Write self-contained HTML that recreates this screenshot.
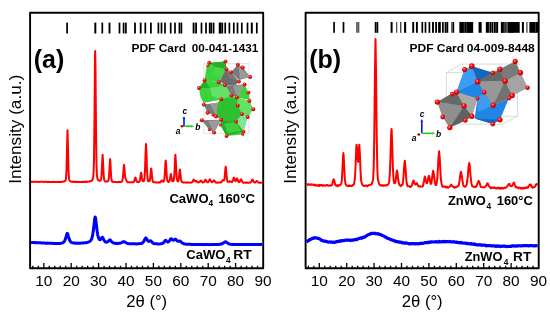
<!DOCTYPE html>
<html><head><meta charset="utf-8"><title>XRD patterns of CaWO4 and ZnWO4</title><style>
html,body{margin:0;padding:0;background:#fff;}
svg{display:block;}
text{font-family:"Liberation Sans",Arial,sans-serif;fill:#000;}
.tl{font-size:15.4px;text-anchor:middle;}
.xt{font-size:16.7px;}
.yt{font-size:17.2px;text-anchor:middle;}
.pl{font-size:25px;font-weight:bold;}
.pdf{font-size:11.5px;font-weight:bold;}
.sl{font-size:12.4px;font-weight:bold;}
.sub{font-size:8.3px;}
.ax{font-size:8.5px;font-weight:bold;font-style:italic;}
</style></head>
<body><svg width="550" height="317" viewBox="0 0 550 317">
<rect width="550" height="317" fill="#fff"/>
<rect x="30.10" y="12.8" width="233.10" height="255.40" fill="none" stroke="#000" stroke-width="1.9" stroke-linejoin="round"/>
<path d="M32.84 268.2 V265.80 M38.32 268.2 V265.80 M43.80 268.2 V263.00 M49.28 268.2 V265.80 M54.76 268.2 V265.80 M60.24 268.2 V265.80 M65.72 268.2 V265.80 M71.20 268.2 V263.00 M76.68 268.2 V265.80 M82.16 268.2 V265.80 M87.64 268.2 V265.80 M93.12 268.2 V265.80 M98.60 268.2 V263.00 M104.08 268.2 V265.80 M109.56 268.2 V265.80 M115.04 268.2 V265.80 M120.52 268.2 V265.80 M126.00 268.2 V263.00 M131.48 268.2 V265.80 M136.96 268.2 V265.80 M142.44 268.2 V265.80 M147.92 268.2 V265.80 M153.40 268.2 V263.00 M158.88 268.2 V265.80 M164.36 268.2 V265.80 M169.84 268.2 V265.80 M175.32 268.2 V265.80 M180.80 268.2 V263.00 M186.28 268.2 V265.80 M191.76 268.2 V265.80 M197.24 268.2 V265.80 M202.72 268.2 V265.80 M208.20 268.2 V263.00 M213.68 268.2 V265.80 M219.16 268.2 V265.80 M224.64 268.2 V265.80 M230.12 268.2 V265.80 M235.60 268.2 V263.00 M241.08 268.2 V265.80 M246.56 268.2 V265.80 M252.04 268.2 V265.80 M257.52 268.2 V265.80" stroke="#000" stroke-width="1.3" fill="none"/>
<text x="43.80" y="286.2" class="tl">10</text>
<text x="71.20" y="286.2" class="tl">20</text>
<text x="98.60" y="286.2" class="tl">30</text>
<text x="126.00" y="286.2" class="tl">40</text>
<text x="153.40" y="286.2" class="tl">50</text>
<text x="180.80" y="286.2" class="tl">60</text>
<text x="208.20" y="286.2" class="tl">70</text>
<text x="235.60" y="286.2" class="tl">80</text>
<text x="263.00" y="286.2" class="tl">90</text>
<text x="126.20" y="306.8" class="xt">2θ (°)</text>
<text transform="translate(20.80,129.2) rotate(-90)" class="yt">Intensity (a.u.)</text>
<text x="33.70" y="68.0" class="pl">(a)</text>
<g fill="#000"><rect x="66.25" y="22.6" width="1.70" height="10.90"/><rect x="94.30" y="22.6" width="2.00" height="10.90"/><rect x="101.45" y="22.6" width="1.70" height="10.90"/><rect x="108.55" y="22.6" width="1.90" height="10.90"/><rect x="118.65" y="22.6" width="1.70" height="10.90"/><rect x="122.75" y="22.6" width="1.70" height="10.90"/><rect x="125.05" y="22.6" width="1.70" height="10.90"/><rect x="134.10" y="22.6" width="1.80" height="10.90"/><rect x="139.80" y="22.6" width="1.80" height="10.90"/><rect x="144.45" y="22.6" width="1.70" height="10.90"/><rect x="150.00" y="22.6" width="1.80" height="10.90"/><rect x="157.55" y="22.6" width="1.70" height="10.90"/><rect x="160.65" y="22.6" width="1.70" height="10.90"/><rect x="164.15" y="22.6" width="1.70" height="10.90"/><rect x="169.85" y="22.6" width="1.70" height="10.90"/><rect x="174.15" y="22.6" width="1.70" height="10.90"/><rect x="178.55" y="22.6" width="1.70" height="10.90"/><rect x="180.55" y="22.6" width="1.70" height="10.90"/><rect x="192.65" y="22.6" width="1.90" height="10.90"/><rect x="195.20" y="22.6" width="1.80" height="10.90"/><rect x="200.65" y="22.6" width="1.70" height="10.90"/><rect x="205.15" y="22.6" width="1.70" height="10.90"/><rect x="208.85" y="22.6" width="1.70" height="10.90"/><rect x="210.45" y="22.6" width="1.70" height="10.90"/><rect x="212.75" y="22.6" width="1.70" height="10.90"/><rect x="218.75" y="22.6" width="1.70" height="10.90"/><rect x="219.75" y="22.6" width="1.70" height="10.90"/><rect x="221.45" y="22.6" width="1.70" height="10.90"/><rect x="224.35" y="22.6" width="1.70" height="10.90"/><rect x="228.55" y="22.6" width="1.70" height="10.90"/><rect x="232.95" y="22.6" width="1.70" height="10.90"/><rect x="236.65" y="22.6" width="1.70" height="10.90"/><rect x="240.95" y="22.6" width="1.70" height="10.90"/><rect x="246.65" y="22.6" width="1.70" height="10.90"/><rect x="250.80" y="22.6" width="2.00" height="10.90"/><rect x="255.95" y="22.6" width="1.70" height="10.90"/></g>
<rect x="305.60" y="12.8" width="233.10" height="255.40" fill="none" stroke="#000" stroke-width="1.9" stroke-linejoin="round"/>
<path d="M308.34 268.2 V265.80 M313.82 268.2 V265.80 M319.30 268.2 V263.00 M324.78 268.2 V265.80 M330.26 268.2 V265.80 M335.74 268.2 V265.80 M341.22 268.2 V265.80 M346.70 268.2 V263.00 M352.18 268.2 V265.80 M357.66 268.2 V265.80 M363.14 268.2 V265.80 M368.62 268.2 V265.80 M374.10 268.2 V263.00 M379.58 268.2 V265.80 M385.06 268.2 V265.80 M390.54 268.2 V265.80 M396.02 268.2 V265.80 M401.50 268.2 V263.00 M406.98 268.2 V265.80 M412.46 268.2 V265.80 M417.94 268.2 V265.80 M423.42 268.2 V265.80 M428.90 268.2 V263.00 M434.38 268.2 V265.80 M439.86 268.2 V265.80 M445.34 268.2 V265.80 M450.82 268.2 V265.80 M456.30 268.2 V263.00 M461.78 268.2 V265.80 M467.26 268.2 V265.80 M472.74 268.2 V265.80 M478.22 268.2 V265.80 M483.70 268.2 V263.00 M489.18 268.2 V265.80 M494.66 268.2 V265.80 M500.14 268.2 V265.80 M505.62 268.2 V265.80 M511.10 268.2 V263.00 M516.58 268.2 V265.80 M522.06 268.2 V265.80 M527.54 268.2 V265.80 M533.02 268.2 V265.80" stroke="#000" stroke-width="1.3" fill="none"/>
<text x="319.30" y="286.2" class="tl">10</text>
<text x="346.70" y="286.2" class="tl">20</text>
<text x="374.10" y="286.2" class="tl">30</text>
<text x="401.50" y="286.2" class="tl">40</text>
<text x="428.90" y="286.2" class="tl">50</text>
<text x="456.30" y="286.2" class="tl">60</text>
<text x="483.70" y="286.2" class="tl">70</text>
<text x="511.10" y="286.2" class="tl">80</text>
<text x="538.50" y="286.2" class="tl">90</text>
<text x="401.70" y="306.8" class="xt">2θ (°)</text>
<text transform="translate(296.30,129.2) rotate(-90)" class="yt">Intensity (a.u.)</text>
<text x="309.20" y="68.0" class="pl">(b)</text>
<g fill="#000"><rect x="333.25" y="22.0" width="1.70" height="10.80"/><rect x="342.65" y="22.0" width="1.70" height="10.80"/><rect x="356.30" y="22.0" width="1.40" height="10.80" fill="#333"/><rect x="358.05" y="22.0" width="1.30" height="10.80" fill="#555"/><rect x="374.75" y="22.0" width="1.70" height="10.80"/><rect x="376.55" y="22.0" width="1.70" height="10.80"/><rect x="390.60" y="22.0" width="2.00" height="10.80"/><rect x="396.10" y="22.0" width="1.20" height="10.80" fill="#444"/><rect x="400.00" y="22.0" width="1.40" height="10.80" fill="#444"/><rect x="404.05" y="22.0" width="2.10" height="10.80"/><rect x="412.25" y="22.0" width="1.90" height="10.80"/><rect x="415.95" y="22.0" width="1.90" height="10.80"/><rect x="421.45" y="22.0" width="1.70" height="10.80"/><rect x="424.65" y="22.0" width="1.70" height="10.80"/><rect x="428.55" y="22.0" width="1.70" height="10.80"/><rect x="432.05" y="22.0" width="1.90" height="10.80"/><rect x="435.20" y="22.0" width="1.80" height="10.80"/><rect x="438.10" y="22.0" width="2.70" height="10.80"/><rect x="442.05" y="22.0" width="1.70" height="10.80"/><rect x="444.65" y="22.0" width="1.70" height="10.80"/><rect x="445.95" y="22.0" width="0.70" height="10.80" fill="#666"/><rect x="446.55" y="22.0" width="1.70" height="10.80"/><rect x="451.10" y="22.0" width="1.20" height="10.80" fill="#555"/><rect x="452.45" y="22.0" width="1.70" height="10.80"/><rect x="459.50" y="22.0" width="13.60" height="10.80" fill="#555"/><rect x="459.50" y="22.0" width="4.30" height="10.80"/><rect x="464.65" y="22.0" width="1.70" height="10.80"/><rect x="467.00" y="22.0" width="6.10" height="10.80"/><rect x="478.55" y="22.0" width="3.10" height="10.80"/><rect x="485.85" y="22.0" width="3.10" height="10.80"/><rect x="489.00" y="22.0" width="0.80" height="10.80" fill="#999"/><rect x="489.55" y="22.0" width="1.70" height="10.80"/><rect x="491.45" y="22.0" width="1.70" height="10.80"/><rect x="493.90" y="22.0" width="4.10" height="10.80" fill="#444"/><rect x="493.65" y="22.0" width="1.70" height="10.80"/><rect x="496.45" y="22.0" width="1.70" height="10.80"/><rect x="500.90" y="22.0" width="12.20" height="10.80" fill="#555"/><rect x="500.90" y="22.0" width="2.80" height="10.80"/><rect x="504.40" y="22.0" width="1.80" height="10.80" fill="#333"/><rect x="508.00" y="22.0" width="5.00" height="10.80"/><rect x="512.50" y="22.0" width="7.20" height="10.80"/><rect x="521.90" y="22.0" width="2.00" height="10.80"/><rect x="526.20" y="22.0" width="1.40" height="10.80" fill="#555"/><rect x="529.35" y="22.0" width="8.70" height="10.80"/><rect x="535.00" y="22.0" width="1.00" height="10.80" fill="#333"/></g>
<text x="131.4" y="51.6" class="pdf" textLength="54.6" lengthAdjust="spacingAndGlyphs">PDF Card</text>
<text x="191.8" y="51.6" class="pdf" textLength="66.5" lengthAdjust="spacingAndGlyphs">00-041-1431</text>
<text x="409.5" y="51.6" class="pdf" textLength="54.6" lengthAdjust="spacingAndGlyphs">PDF Card</text>
<text x="466.8" y="51.6" class="pdf" textLength="68" lengthAdjust="spacingAndGlyphs">04-009-8448</text>
<defs><radialGradient id="ag" cx="0.4" cy="0.35" r="0.7"><stop offset="0" stop-color="#ffb0b0"/><stop offset="0.35" stop-color="#f41010"/><stop offset="1" stop-color="#b80000"/></radialGradient></defs><g fill="none" stroke="#cfcfcf" stroke-width="0.6"><path d="M203.8 63.6 H249 V133.3 H203.8 Z"/></g><polygon points="209.2,62.8 225.5,61.4 226.5,69.2 221.0,78.0 218.8,82.3 204.6,80.2 206.5,67.0" fill="#3cd23c"/><polygon points="209.2,62.8 225.5,61.4 226.5,69.2 216.0,67.0" fill="#26ae26"/><polygon points="216.0,67.0 226.5,69.2 221.0,78.0 212.0,74.0" fill="#48d848"/><polygon points="199.0,88.0 204.6,80.2 218.8,82.3 225.7,85.5 231.4,95.4 227.0,97.5 221.2,99.5 203.5,103.0 200.5,97.0" fill="#3cd23c"/><polygon points="210.0,88.0 225.7,85.5 231.4,95.4 227.0,97.5 221.2,99.5 212.0,96.0" fill="#66e066"/><polygon points="199.0,88.0 204.6,80.2 210.0,88.0" fill="#26ae26"/><polygon points="226.1,69.2 231.0,72.3 238.9,81.6 236.0,84.8 225.7,85.5 219.5,81.0" fill="#6c6c6c"/><polygon points="226.1,69.2 231.0,72.3 238.9,81.6 229.0,78.0" fill="#7a7a7a"/><polygon points="237.8,64.6 242.7,67.5 250.2,77.0 239.0,80.0 231.0,72.3" fill="#7a7a7a"/><polygon points="238.5,66.0 250.2,77.0 240.0,79.0" fill="#9a9a9a"/><polygon points="225.7,85.5 244.6,84.5 237.0,97.2 231.4,95.4" fill="#7a7a7a"/><polygon points="233.0,86.0 244.6,84.5 237.0,97.2" fill="#9a9a9a"/><polygon points="244.6,84.5 248.4,92.6 250.0,100.0 237.0,97.6" fill="#3cd23c"/><polygon points="217.7,102.8 221.2,99.0 231.4,95.7 237.0,97.6 249.4,101.0 253.3,109.2 247.7,117.0 243.4,131.6 242.7,134.4 226.4,136.1 220.5,125.0 221.2,119.8 216.3,116.3" fill="#3cd23c"/><polygon points="221.2,99.0 237.0,97.6 237.8,105.6 242.0,114.1 236.1,121.6 221.2,119.8 216.3,116.3 217.7,102.8" fill="#2fc02f"/><polygon points="237.0,97.6 249.4,101.0 253.3,109.2 247.7,117.0 242.0,114.1 237.8,105.6" fill="#66e066"/><polygon points="242.0,114.1 247.7,117.0 243.4,131.6 236.1,121.6" fill="#7fe59a"/><polygon points="238.0,123.0 243.4,131.6 241.0,128.0" fill="#a6f0b8"/><polygon points="221.2,119.8 236.1,121.6 243.4,131.6 226.4,136.1 220.5,125.0" fill="#26ae26"/><polygon points="224.0,124.0 236.1,121.6 241.0,131.0 228.0,133.0" fill="#3cd23c"/><polygon points="203.8,104.6 217.7,102.8 216.3,116.3 207.5,112.7" fill="#7a7a7a"/><polygon points="210.0,104.0 217.7,102.8 216.3,116.3" fill="#9a9a9a"/><polygon points="201.8,120.2 221.2,119.8 214.1,132.6 209.2,129.7" fill="#7a7a7a"/><polygon points="208.0,121.0 221.2,119.8 214.1,132.6" fill="#9a9a9a"/><g fill="url(#ag)"><circle cx="209.2" cy="62.8" r="1.96"/><circle cx="207.6" cy="65.8" r="1.34"/><circle cx="225.5" cy="61.4" r="1.96"/><circle cx="226.5" cy="69.2" r="1.96"/><circle cx="204.6" cy="80.2" r="1.96"/><circle cx="218.8" cy="82.3" r="1.96"/><circle cx="224.8" cy="85.0" r="1.96"/><circle cx="199.0" cy="88.0" r="1.96"/><circle cx="221.2" cy="99.2" r="1.96"/><circle cx="237.8" cy="64.6" r="1.96"/><circle cx="242.7" cy="67.5" r="1.96"/><circle cx="231.0" cy="72.3" r="1.96"/><circle cx="250.2" cy="77.0" r="1.96"/><circle cx="238.9" cy="81.6" r="1.96"/><circle cx="244.6" cy="84.5" r="1.96"/><circle cx="248.4" cy="92.6" r="1.96"/><circle cx="231.4" cy="95.4" r="1.96"/><circle cx="237.0" cy="97.4" r="1.96"/><circle cx="203.8" cy="104.6" r="1.96"/><circle cx="207.5" cy="112.7" r="1.96"/><circle cx="213.1" cy="115.3" r="1.46"/><circle cx="216.0" cy="116.5" r="1.96"/><circle cx="201.8" cy="120.2" r="1.96"/><circle cx="221.2" cy="119.8" r="1.96"/><circle cx="220.5" cy="125.0" r="1.46"/><circle cx="209.2" cy="129.7" r="1.46"/><circle cx="214.1" cy="132.6" r="1.96"/><circle cx="226.5" cy="136.1" r="1.96"/><circle cx="249.4" cy="101.0" r="1.96"/><circle cx="237.8" cy="105.6" r="1.96"/><circle cx="253.3" cy="109.2" r="1.96"/><circle cx="242.0" cy="114.1" r="1.96"/><circle cx="247.7" cy="117.0" r="1.96"/><circle cx="236.1" cy="121.6" r="1.96"/><circle cx="243.4" cy="131.6" r="1.96"/><circle cx="242.7" cy="134.4" r="1.46"/></g><path d="M184.0 126.2 V118.8" stroke="#1010e0" stroke-width="1.6"/><path d="M182.5 119.0 L184.0 116.2 L185.5 119.0 Z" fill="#1010e0"/><path d="M184.0 126.2 H191.4" stroke="#20d020" stroke-width="1.6"/><path d="M191.2 124.7 L194.0 126.2 L191.2 127.7 Z" fill="#20d020"/><ellipse cx="182.0" cy="126.3" rx="1.5" ry="1.2" fill="#b01010"/><text x="178" y="133.5" class="ax" text-anchor="middle">a</text><text x="197.9" y="130.0" class="ax" text-anchor="middle">b</text><text x="184.9" y="113.8" class="ax" text-anchor="middle">c</text>
<g fill="none" stroke="#c8c8c8" stroke-width="0.7"><path d="M446.4 72.6 L461.7 64.1 H520 M446.4 72.6 H505 M446.4 72.6 V124.2 H502 L517.6 116.3 V75 M502 116.3 H517.6 M505 72.6 L520 64.1"/></g><polygon points="464.6,69.6 471.8,66.2 492.8,72.8 484.2,92.7 477.5,98.5 466.0,97.0 456.6,92.1" fill="#1f86e6"/><polygon points="471.8,66.2 492.8,72.8 477.7,81.7" fill="#1467c0"/><polygon points="464.6,69.6 471.8,66.2 477.7,81.7 456.6,92.1" fill="#3c9cf2"/><polygon points="477.5,98.5 484.2,92.1 493.2,105.3 508.8,98.5 499.9,119.8 492.8,124.1 474.6,118.4" fill="#1f86e6"/><polygon points="474.6,118.4 499.9,119.8 492.8,124.1" fill="#1467c0"/><polygon points="477.5,98.5 484.2,92.1 493.2,105.3 478.0,112.0" fill="#3c9cf2"/><polygon points="477.8,81.3 492.8,72.8 499.9,69.2 505.1,81.0 512.2,95.5 509.1,98.3 493.2,105.3 484.2,92.7" fill="#8a8a8a"/><polygon points="477.8,81.3 492.8,72.8 499.9,69.2 505.1,81.0" fill="#686868"/><polygon points="477.8,81.3 505.1,81.0 493.2,105.3 484.2,92.7" fill="#979797"/><polygon points="505.1,81.0 512.2,95.5 509.1,98.3 493.2,105.3" fill="#727272"/><polygon points="499.9,69.2 515.2,61.4 520.5,72.8 527.6,87.7 512.2,95.5 505.1,81.0" fill="#8a8a8a"/><polygon points="499.9,69.2 515.2,61.4 520.5,72.8 505.1,81.0" fill="#7a7a7a"/><polygon points="505.1,81.0 520.5,72.8 527.6,87.7 512.2,95.5" fill="#a4a4a4"/><polygon points="437.4,102.1 451.9,93.6 456.4,92.1 477.5,98.5 471.8,116.3 465.4,120.5 449.8,127.6 442.7,117.0" fill="#8a8a8a"/><polygon points="437.4,102.1 451.9,93.6 456.4,92.1 464.0,105.9" fill="#686868"/><polygon points="456.4,92.1 477.5,98.5 471.8,116.3 464.0,105.9" fill="#a8a8a8"/><polygon points="464.0,105.9 471.8,116.3 465.4,120.5 449.8,127.6" fill="#616161"/><polygon points="437.4,102.1 464.0,105.9 449.8,127.6 442.7,117.0" fill="#8e8e8e"/><g fill="url(#ag)"><circle cx="471.8" cy="66.2" r="2.85"/><circle cx="464.6" cy="69.6" r="2.55"/><circle cx="515.2" cy="61.4" r="2.55"/><circle cx="499.9" cy="69.2" r="2.70"/><circle cx="492.8" cy="72.8" r="2.40"/><circle cx="520.5" cy="72.8" r="2.70"/><circle cx="477.7" cy="81.7" r="2.85"/><circle cx="505.1" cy="81.0" r="2.85"/><circle cx="527.6" cy="87.7" r="2.25"/><circle cx="456.6" cy="92.1" r="2.70"/><circle cx="452.2" cy="94.0" r="2.25"/><circle cx="484.2" cy="92.4" r="2.40"/><circle cx="512.2" cy="95.5" r="2.70"/><circle cx="509.1" cy="98.3" r="2.10"/><circle cx="437.4" cy="102.1" r="2.70"/><circle cx="464.0" cy="105.9" r="2.70"/><circle cx="477.5" cy="98.5" r="1.95"/><circle cx="493.2" cy="105.3" r="2.70"/><circle cx="442.7" cy="117.0" r="2.40"/><circle cx="471.8" cy="116.3" r="2.70"/><circle cx="465.4" cy="120.5" r="2.25"/><circle cx="449.8" cy="127.6" r="2.70"/><circle cx="499.9" cy="119.8" r="2.70"/><circle cx="492.8" cy="124.1" r="2.40"/></g><path d="M421.8 133.3 V121.6" stroke="#1010e0" stroke-width="1.6"/><path d="M420.3 121.8 L421.8 119.0 L423.3 121.8 Z" fill="#1010e0"/><path d="M421.8 133.3 H432.4" stroke="#20d020" stroke-width="1.6"/><path d="M432.2 131.8 L435.0 133.3 L432.2 134.8 Z" fill="#20d020"/><ellipse cx="418.8" cy="134.5" rx="1.5" ry="1.2" fill="#b01010"/><text x="414.2" y="141.1" class="ax" text-anchor="middle">a</text><text x="438.5" y="136.6" class="ax" text-anchor="middle">b</text><text x="422.0" y="117.1" class="ax" text-anchor="middle">c</text>
<path d="M31.00 181.93 L31.50 181.93 L32.00 181.67 L32.50 181.68 L33.00 181.91 L33.50 181.88 L34.00 181.86 L34.50 181.76 L35.00 181.85 L35.50 181.85 L36.00 181.85 L36.50 181.72 L37.00 181.81 L37.50 181.80 L38.00 181.90 L38.50 181.99 L39.00 181.98 L39.50 181.86 L40.00 181.83 L40.50 181.78 L41.00 181.71 L41.50 181.71 L42.00 181.85 L42.50 181.81 L43.00 181.83 L43.50 181.98 L44.00 181.88 L44.50 181.89 L45.00 181.80 L45.50 181.73 L46.00 181.83 L46.50 181.77 L47.00 181.89 L47.50 182.04 L48.00 181.94 L48.50 181.80 L49.00 182.01 L49.50 181.98 L50.00 181.97 L50.50 182.02 L51.00 181.98 L51.50 181.99 L52.00 181.86 L52.50 182.05 L53.00 182.04 L53.50 181.80 L54.00 181.98 L54.50 181.97 L55.00 181.90 L55.50 181.92 L56.00 181.90 L56.50 182.03 L57.00 181.90 L57.50 182.00 L58.00 181.85 L58.50 182.00 L59.00 182.00 L59.50 181.86 L60.00 181.88 L60.50 181.97 L61.00 181.89 L61.50 181.80 L62.00 181.69 L62.50 181.68 L63.00 181.73 L63.50 181.49 L64.00 181.60 L64.50 181.23 L65.00 181.14 L65.50 180.41 L66.00 178.78 L66.50 170.44 L67.00 148.25 L67.50 130.31 L68.00 148.25 L68.50 170.43 L69.00 178.68 L69.50 180.42 L70.00 180.94 L70.50 181.32 L71.00 181.63 L71.50 181.66 L72.00 181.57 L72.50 181.86 L73.00 181.87 L73.50 181.96 L74.00 181.77 L74.50 181.96 L75.00 181.77 L75.50 181.97 L76.00 181.86 L76.50 181.86 L77.00 182.06 L77.50 181.84 L78.00 181.96 L78.50 182.07 L79.00 181.89 L79.50 181.88 L80.00 182.08 L80.50 181.94 L81.00 182.03 L81.50 181.82 L82.00 181.92 L82.50 181.85 L83.00 182.00 L83.50 181.81 L84.00 182.07 L84.50 181.78 L85.00 181.97 L85.50 181.74 L86.00 181.80 L86.50 181.94 L87.00 181.71 L87.50 181.68 L88.00 181.79 L88.50 181.65 L89.00 181.47 L89.50 181.67 L90.00 181.30 L90.50 181.12 L91.00 181.00 L91.50 180.79 L92.00 180.39 L92.50 179.51 L93.00 178.35 L93.50 174.73 L94.00 160.15 L94.50 116.67 L95.00 59.10 L95.20 51.08 L95.50 68.14 L96.00 128.02 L96.50 164.95 L97.00 176.01 L97.50 178.74 L98.00 179.73 L98.50 180.23 L99.00 180.50 L99.50 180.81 L100.00 180.74 L100.50 180.52 L101.00 179.78 L101.50 176.05 L102.00 165.60 L102.60 154.80 L103.00 160.68 L103.50 172.77 L104.00 179.08 L104.50 180.70 L105.00 181.39 L105.50 181.37 L106.00 181.57 L106.50 181.55 L107.00 181.41 L107.50 181.49 L108.00 181.15 L108.50 180.34 L109.00 177.00 L109.50 168.31 L110.10 159.08 L110.50 163.93 L111.00 174.43 L111.50 179.74 L112.00 181.35 L112.50 181.72 L113.00 181.91 L113.50 181.79 L114.00 181.93 L114.50 181.92 L115.00 182.05 L115.50 182.10 L116.00 182.18 L116.50 182.17 L117.00 182.05 L117.50 182.11 L118.00 182.15 L118.50 181.99 L119.00 182.00 L119.50 182.10 L120.00 181.99 L120.50 182.13 L121.00 181.92 L121.50 181.76 L122.00 181.49 L122.50 180.44 L123.00 176.81 L123.50 169.75 L124.00 164.85 L124.50 169.44 L125.00 175.82 L125.50 178.49 L125.80 179.03 L126.00 179.43 L126.50 180.74 L127.00 181.57 L127.50 182.19 L128.00 182.35 L128.50 182.35 L129.00 182.30 L129.50 182.36 L130.00 182.41 L130.50 182.25 L131.00 182.37 L131.50 182.39 L132.00 182.28 L132.50 182.23 L133.00 182.39 L133.50 182.12 L134.00 181.67 L134.50 180.46 L135.00 178.33 L135.40 177.43 L136.00 179.02 L136.50 181.08 L137.00 181.82 L137.50 181.98 L138.00 182.21 L138.50 182.00 L139.00 181.94 L139.50 181.65 L140.00 179.98 L140.50 176.15 L141.10 172.76 L141.50 174.52 L142.00 178.49 L142.50 180.79 L143.00 181.30 L143.50 181.33 L144.00 180.60 L144.50 178.33 L145.00 170.35 L145.50 154.75 L146.00 143.92 L146.50 154.49 L147.00 170.46 L147.50 178.29 L148.00 180.73 L148.50 181.25 L149.00 181.40 L149.50 181.17 L150.00 179.33 L150.50 174.64 L151.00 169.24 L151.20 168.52 L151.50 170.02 L152.00 175.93 L152.50 180.28 L153.00 181.68 L153.50 182.17 L154.00 182.24 L154.50 182.12 L155.00 182.36 L155.50 182.44 L156.00 182.45 L156.50 182.40 L157.00 182.36 L157.50 182.40 L158.00 182.50 L158.50 182.33 L159.00 182.40 L159.50 182.35 L160.00 182.40 L160.50 182.05 L161.00 181.45 L161.50 180.61 L161.70 180.51 L162.00 180.76 L162.50 181.23 L163.00 181.63 L163.50 181.67 L164.00 180.88 L164.50 177.99 L165.00 170.59 L165.50 161.66 L165.70 160.48 L166.00 163.12 L166.50 172.40 L167.00 178.96 L167.50 181.02 L168.00 181.66 L168.50 181.98 L169.00 181.66 L169.50 181.13 L170.00 178.99 L170.50 175.50 L170.90 174.04 L171.50 177.13 L172.00 180.19 L172.50 181.34 L173.00 181.34 L173.50 180.92 L174.00 178.70 L174.50 171.87 L175.00 160.01 L175.40 154.63 L176.00 164.82 L176.50 175.36 L177.00 179.88 L177.50 181.21 L178.00 181.45 L178.50 180.53 L179.00 177.18 L179.50 171.83 L179.90 169.39 L180.50 174.29 L181.00 179.11 L181.50 181.52 L182.00 182.02 L182.50 182.29 L183.00 182.30 L183.50 182.54 L184.00 182.53 L184.50 182.50 L185.00 182.39 L185.50 182.50 L186.00 182.39 L186.50 182.57 L187.00 182.67 L187.50 182.46 L188.00 182.56 L188.50 182.56 L189.00 182.53 L189.50 182.62 L190.00 182.68 L190.50 182.60 L191.00 182.50 L191.50 182.58 L192.00 182.18 L192.50 181.74 L193.00 180.70 L193.50 179.69 L193.70 179.57 L194.00 179.87 L194.50 180.83 L195.00 181.29 L195.50 181.38 L196.00 181.04 L196.20 181.01 L196.50 181.13 L197.00 181.74 L197.50 182.31 L198.00 182.43 L198.50 182.30 L199.00 182.36 L199.50 182.13 L200.00 181.56 L200.50 180.81 L200.80 180.60 L201.00 180.67 L201.50 181.39 L202.00 181.81 L202.50 182.45 L203.00 182.49 L203.50 182.39 L204.00 182.17 L204.50 181.42 L205.00 180.10 L205.50 179.60 L206.00 180.31 L206.50 181.37 L207.00 181.93 L207.50 182.37 L208.00 182.28 L208.50 181.76 L209.00 181.03 L209.50 179.65 L209.90 179.30 L210.50 180.25 L211.00 181.35 L211.50 181.99 L212.00 182.27 L212.50 182.03 L213.00 181.34 L213.50 180.76 L213.90 180.31 L214.50 180.83 L215.00 181.63 L215.50 182.28 L216.00 182.59 L216.50 182.60 L217.00 182.65 L217.50 182.58 L218.00 182.64 L218.50 182.53 L219.00 182.50 L219.50 182.55 L220.00 182.38 L220.50 182.35 L221.00 182.43 L221.50 181.92 L222.00 181.40 L222.50 180.51 L222.90 180.03 L223.50 180.39 L224.00 180.55 L224.50 178.64 L225.00 173.46 L225.50 167.54 L225.70 166.81 L226.00 168.32 L226.50 174.62 L227.00 179.50 L227.50 181.47 L228.00 181.91 L228.50 181.84 L229.00 181.75 L229.50 181.50 L230.00 181.16 L230.50 181.35 L231.00 181.81 L231.50 182.04 L232.00 182.02 L232.50 181.56 L233.00 180.01 L233.50 178.30 L233.90 177.55 L234.50 178.89 L235.00 180.53 L235.50 181.28 L236.00 180.42 L236.50 179.26 L237.00 178.35 L237.50 179.17 L238.00 180.80 L238.50 181.87 L239.00 182.17 L239.50 181.88 L240.00 181.23 L240.50 179.80 L241.00 179.25 L241.50 180.00 L242.00 181.18 L242.50 182.08 L243.00 182.55 L243.50 182.66 L244.00 182.66 L244.50 182.59 L245.00 182.58 L245.50 182.66 L246.00 182.60 L246.50 182.62 L247.00 182.83 L247.50 182.57 L248.00 182.78 L248.50 182.65 L249.00 182.63 L249.50 182.60 L250.00 182.49 L250.50 182.48 L251.00 182.04 L251.50 181.30 L252.00 180.06 L252.50 179.44 L253.00 180.23 L253.50 181.43 L254.00 182.10 L254.50 182.49 L255.00 182.60 L255.50 182.19 L256.00 181.62 L256.50 181.08 L256.80 181.03 L257.00 181.10 L257.50 181.55 L258.00 182.27 L258.50 182.51 L259.00 182.62 L259.50 182.80 L260.00 182.65 L260.50 182.83 L261.00 182.79 L261.50 182.73 L262.00 182.86" fill="none" stroke="#ff0000" stroke-width="2.0" stroke-linejoin="round"/>
<path d="M31.00 242.42 L31.75 242.47 L32.50 242.52 L33.25 242.58 L34.00 242.58 L34.75 242.65 L35.50 242.54 L36.25 242.64 L37.00 242.76 L37.75 242.74 L38.50 242.82 L39.25 242.73 L40.00 242.82 L40.75 242.82 L41.50 242.90 L42.25 242.94 L43.00 242.89 L43.75 242.95 L44.50 243.00 L45.25 243.13 L46.00 243.14 L46.75 243.08 L47.50 243.21 L48.25 243.14 L49.00 243.24 L49.75 243.20 L50.50 243.21 L51.25 243.37 L52.00 243.29 L52.75 243.32 L53.50 243.47 L54.25 243.47 L55.00 243.40 L55.75 243.52 L56.50 243.47 L57.25 243.50 L58.00 243.42 L58.75 243.53 L59.50 243.47 L60.25 243.45 L61.00 243.33 L61.75 243.08 L62.50 242.87 L63.25 242.49 L64.00 241.86 L64.75 240.72 L65.50 238.82 L66.25 236.09 L67.00 233.60 L67.30 233.30 L67.75 233.84 L68.50 236.65 L69.25 239.21 L70.00 240.93 L70.75 241.99 L71.50 242.45 L72.25 242.71 L73.00 242.91 L73.75 243.06 L74.50 243.03 L75.25 243.22 L76.00 243.10 L76.75 243.23 L77.50 243.26 L78.25 243.12 L79.00 243.23 L79.75 243.15 L80.50 243.16 L81.25 243.04 L82.00 243.01 L82.75 242.98 L83.50 243.05 L84.25 242.86 L85.00 242.86 L85.75 242.79 L86.50 242.66 L87.25 242.41 L88.00 242.20 L88.75 241.95 L89.50 241.61 L90.25 240.95 L91.00 240.18 L91.75 238.67 L92.50 235.97 L93.25 231.31 L94.00 224.97 L94.75 218.46 L95.20 217.08 L95.50 217.72 L96.25 223.38 L97.00 230.12 L97.75 235.03 L98.50 237.82 L99.25 239.37 L100.00 239.75 L100.75 239.31 L101.50 238.17 L102.25 237.22 L102.40 237.22 L103.00 237.98 L103.75 239.70 L104.50 241.03 L105.25 241.83 L106.00 242.19 L106.75 242.08 L107.50 241.81 L108.25 241.38 L109.00 240.44 L109.75 239.81 L109.90 239.79 L110.50 240.19 L111.25 241.17 L112.00 242.10 L112.75 242.70 L113.50 242.96 L114.25 243.14 L115.00 243.19 L115.75 243.40 L116.50 243.30 L117.25 243.40 L118.00 243.45 L118.75 243.31 L119.50 243.33 L120.25 243.22 L121.00 242.93 L121.75 242.60 L122.50 242.05 L123.25 241.71 L123.80 241.62 L124.00 241.64 L124.75 241.90 L125.50 242.50 L126.25 242.85 L127.00 243.21 L127.75 243.52 L128.50 243.64 L129.25 243.76 L130.00 243.74 L130.75 243.79 L131.50 243.86 L132.25 243.84 L133.00 243.82 L133.75 243.85 L134.50 243.82 L135.25 243.85 L136.00 243.94 L136.75 243.93 L137.50 243.85 L138.25 243.80 L139.00 243.73 L139.75 243.62 L140.50 243.55 L141.25 243.47 L142.00 243.21 L142.75 242.65 L143.50 241.88 L144.25 240.56 L145.00 238.93 L145.80 237.90 L146.50 238.59 L147.25 240.02 L148.00 241.00 L148.75 241.43 L149.50 241.15 L150.25 240.80 L150.60 240.79 L151.00 241.04 L151.75 241.84 L152.50 242.57 L153.25 243.23 L154.00 243.52 L154.75 243.70 L155.50 243.72 L156.25 243.87 L157.00 243.86 L157.75 243.95 L158.50 243.92 L159.25 243.97 L160.00 243.91 L160.75 243.87 L161.50 243.69 L162.25 243.55 L163.00 243.20 L163.75 242.56 L164.50 241.47 L165.25 240.52 L165.60 240.27 L166.00 240.46 L166.75 241.23 L167.50 241.92 L168.25 241.98 L169.00 241.33 L169.75 240.21 L170.50 238.94 L170.90 238.69 L171.25 238.79 L172.00 239.55 L172.75 240.09 L173.50 240.14 L174.25 239.69 L175.00 239.24 L175.30 239.18 L175.75 239.31 L176.50 240.12 L177.25 240.82 L178.00 241.23 L178.75 241.20 L179.50 241.09 L180.00 241.11 L180.25 241.22 L181.00 241.89 L181.75 242.60 L182.50 243.21 L183.25 243.50 L184.00 243.78 L184.75 243.99 L185.50 244.14 L186.25 244.15 L187.00 244.28 L187.75 244.32 L188.50 244.27 L189.25 244.37 L190.00 244.36 L190.75 244.36 L191.50 244.39 L192.25 244.44 L193.00 244.43 L193.75 244.45 L194.50 244.44 L195.25 244.52 L196.00 244.52 L196.75 244.57 L197.50 244.58 L198.25 244.53 L199.00 244.64 L199.75 244.51 L200.50 244.58 L201.25 244.56 L202.00 244.58 L202.75 244.53 L203.50 244.65 L204.25 244.57 L205.00 244.52 L205.75 244.61 L206.50 244.52 L207.25 244.59 L208.00 244.56 L208.75 244.59 L209.50 244.65 L210.25 244.62 L211.00 244.56 L211.75 244.61 L212.50 244.58 L213.25 244.53 L214.00 244.48 L214.75 244.54 L215.50 244.52 L216.25 244.57 L217.00 244.55 L217.75 244.46 L218.50 244.39 L219.25 244.42 L220.00 244.21 L220.75 244.11 L221.50 244.01 L222.25 243.74 L223.00 243.25 L223.75 242.78 L224.50 242.23 L225.25 241.82 L225.40 241.80 L226.00 241.96 L226.75 242.50 L227.50 243.05 L228.25 243.53 L229.00 243.96 L229.75 244.08 L230.50 244.31 L231.25 244.38 L232.00 244.39 L232.75 244.37 L233.50 244.52 L234.25 244.46 L235.00 244.46 L235.75 244.46 L236.50 244.58 L237.25 244.51 L238.00 244.48 L238.75 244.52 L239.50 244.47 L240.25 244.55 L241.00 244.52 L241.75 244.50 L242.50 244.58 L243.25 244.59 L244.00 244.46 L244.75 244.55 L245.50 244.50 L246.25 244.61 L247.00 244.59 L247.75 244.50 L248.50 244.50 L249.25 244.48 L250.00 244.62 L250.75 244.51 L251.50 244.56 L252.25 244.53 L253.00 244.56 L253.75 244.55 L254.50 244.57 L255.25 244.47 L256.00 244.57 L256.75 244.50 L257.50 244.54 L258.25 244.50 L259.00 244.50 L259.75 244.53 L260.50 244.52 L261.25 244.50 L262.00 244.56" fill="none" stroke="#0000ff" stroke-width="3.0" stroke-linejoin="round"/>
<path d="M306.50 184.35 L307.10 184.19 L307.70 184.83 L308.30 184.17 L308.90 184.77 L309.50 184.60 L310.10 184.27 L310.70 184.85 L311.30 184.32 L311.90 184.84 L312.50 184.44 L313.10 184.50 L313.70 184.94 L314.30 185.46 L314.90 184.66 L315.50 184.82 L316.10 185.34 L316.70 185.76 L317.30 185.36 L317.90 185.18 L318.50 185.91 L319.10 184.83 L319.70 185.85 L320.30 185.19 L320.90 185.03 L321.50 185.02 L322.10 185.26 L322.70 185.89 L323.30 185.14 L323.90 185.64 L324.50 185.72 L325.10 185.41 L325.70 185.64 L326.30 185.07 L326.90 185.07 L327.50 185.26 L328.10 185.83 L328.70 185.53 L329.30 185.39 L329.90 185.69 L330.50 185.50 L331.10 185.21 L331.70 185.43 L332.30 184.18 L332.90 181.36 L333.50 179.48 L333.70 179.28 L334.10 180.12 L334.70 182.57 L335.30 184.92 L335.90 185.57 L336.50 185.28 L337.10 186.17 L337.70 185.15 L338.30 185.48 L338.90 185.83 L339.50 185.00 L340.10 185.22 L340.70 184.29 L341.30 183.78 L341.90 179.43 L342.50 168.54 L343.10 155.52 L343.40 153.09 L343.70 155.98 L344.30 168.26 L344.90 179.40 L345.50 183.76 L346.10 185.03 L346.70 185.30 L347.30 185.96 L347.90 186.21 L348.50 185.72 L349.10 185.99 L349.70 185.28 L350.30 186.02 L350.90 185.91 L351.50 186.23 L352.10 185.89 L352.70 185.04 L353.30 184.84 L353.90 184.51 L354.50 181.74 L355.10 176.08 L355.70 162.50 L356.30 147.33 L356.60 144.74 L356.90 146.76 L357.50 157.44 L358.10 161.87 L358.70 151.74 L359.30 144.73 L359.90 154.39 L360.50 170.24 L361.10 180.43 L361.70 183.09 L362.30 184.64 L362.90 185.20 L363.50 185.85 L364.10 185.93 L364.70 186.08 L365.30 185.44 L365.90 185.64 L366.50 185.57 L367.10 186.18 L367.70 186.22 L368.30 185.18 L368.90 185.10 L369.50 185.01 L370.10 184.78 L370.70 184.76 L371.30 184.42 L371.90 183.31 L372.50 181.76 L373.10 179.17 L373.70 168.14 L374.30 135.39 L374.90 77.13 L375.50 39.03 L376.10 76.82 L376.70 135.34 L377.30 168.47 L377.90 179.52 L378.50 181.87 L379.10 184.13 L379.70 184.71 L380.30 185.30 L380.90 185.53 L381.50 185.28 L382.10 185.45 L382.70 185.21 L383.30 185.93 L383.90 185.28 L384.50 185.31 L385.10 185.46 L385.70 185.36 L386.30 185.48 L386.90 184.99 L387.50 184.69 L388.10 184.48 L388.70 183.54 L389.30 181.16 L389.90 172.64 L390.50 156.39 L391.10 135.11 L391.50 128.92 L391.70 130.52 L392.30 148.12 L392.90 168.07 L393.50 179.05 L394.10 182.86 L394.70 183.23 L395.30 182.75 L395.90 178.98 L396.50 172.76 L397.00 170.48 L397.70 174.87 L398.30 180.05 L398.90 183.46 L399.50 185.05 L400.10 185.32 L400.70 186.10 L401.30 185.26 L401.90 184.80 L402.50 184.80 L403.10 180.93 L403.70 173.32 L404.30 164.62 L404.80 160.85 L405.50 167.04 L406.10 176.82 L406.70 183.30 L407.30 185.69 L407.90 186.34 L408.50 186.15 L409.10 186.45 L409.70 186.31 L410.30 187.05 L410.90 186.60 L411.50 186.34 L412.10 184.44 L412.70 182.17 L413.30 180.69 L413.50 180.52 L413.90 181.40 L414.50 183.43 L415.10 184.48 L415.70 184.23 L416.30 183.45 L416.60 182.95 L416.90 183.21 L417.50 184.77 L418.10 185.44 L418.70 186.55 L419.30 186.65 L419.90 186.34 L420.50 186.34 L421.10 186.60 L421.70 186.45 L422.30 186.64 L422.90 185.98 L423.50 183.13 L424.10 180.20 L424.70 176.74 L424.90 176.47 L425.30 177.92 L425.90 181.11 L426.50 183.03 L427.10 183.19 L427.70 181.00 L428.30 177.37 L428.90 175.72 L429.50 177.33 L430.10 181.40 L430.70 183.96 L431.30 183.54 L431.90 179.83 L432.50 174.74 L433.20 170.74 L433.70 173.21 L434.30 177.68 L434.90 182.70 L435.50 185.03 L436.10 185.07 L436.70 183.44 L437.30 178.37 L437.90 168.73 L438.50 157.69 L439.10 151.22 L439.70 157.23 L440.30 169.65 L440.90 179.25 L441.50 183.47 L442.10 185.40 L442.70 186.76 L443.30 186.81 L443.90 186.33 L444.50 186.41 L445.10 186.53 L445.70 187.51 L446.30 187.44 L446.90 186.68 L447.50 187.52 L448.10 187.71 L448.70 187.28 L449.30 186.77 L449.90 186.63 L450.50 185.48 L451.10 184.67 L451.50 185.07 L451.70 185.12 L452.30 186.25 L452.90 186.56 L453.50 186.88 L454.10 187.58 L454.70 187.04 L455.30 187.56 L455.90 187.47 L456.50 186.67 L457.10 186.61 L457.70 186.44 L458.30 185.79 L458.90 184.70 L459.50 181.14 L460.10 176.59 L460.70 172.04 L461.00 171.80 L461.30 172.96 L461.90 176.45 L462.50 181.27 L463.10 184.52 L463.70 186.34 L464.30 186.24 L464.90 186.93 L465.50 186.29 L466.10 185.84 L466.70 184.43 L467.30 180.50 L467.90 175.03 L468.50 167.26 L469.20 162.89 L469.70 164.92 L470.30 173.04 L470.90 179.06 L471.50 183.64 L472.10 185.90 L472.70 186.46 L473.30 186.48 L473.90 186.86 L474.50 186.97 L475.10 187.25 L475.70 186.33 L476.30 186.47 L476.90 185.13 L477.50 183.49 L478.10 182.15 L478.70 180.87 L479.30 181.86 L479.90 183.89 L480.50 185.86 L481.10 187.07 L481.70 186.97 L482.30 187.37 L482.90 187.32 L483.50 187.35 L484.10 187.54 L484.70 187.08 L485.30 186.73 L485.90 185.80 L486.50 185.15 L487.10 183.77 L487.50 183.28 L487.70 183.36 L488.30 184.74 L488.90 186.13 L489.50 186.38 L490.10 187.39 L490.70 188.17 L491.30 188.19 L491.90 187.43 L492.50 187.46 L493.10 187.89 L493.70 187.49 L494.30 187.73 L494.90 187.56 L495.50 188.29 L496.10 188.43 L496.70 188.57 L497.30 187.68 L497.90 188.36 L498.50 188.29 L499.10 187.67 L499.70 188.55 L500.30 188.65 L500.90 187.75 L501.50 188.63 L502.10 187.95 L502.70 188.05 L503.30 188.64 L503.90 188.43 L504.50 187.60 L505.10 187.87 L505.70 187.86 L506.30 187.38 L506.90 186.66 L507.50 185.87 L508.10 185.20 L508.70 184.11 L508.90 184.04 L509.30 183.69 L509.90 185.27 L510.50 186.12 L511.10 186.12 L511.70 186.30 L512.30 185.72 L512.90 184.20 L513.50 183.04 L513.80 182.87 L514.10 182.54 L514.70 184.84 L515.30 186.08 L515.90 187.44 L516.50 187.04 L517.10 187.53 L517.70 187.38 L518.30 188.33 L518.90 187.75 L519.50 187.60 L520.10 187.97 L520.70 188.56 L521.30 188.46 L521.90 187.79 L522.50 187.66 L523.10 188.59 L523.70 188.16 L524.30 188.31 L524.90 187.57 L525.50 187.49 L526.10 188.19 L526.70 187.76 L527.30 187.12 L527.90 187.70 L528.50 186.55 L529.10 185.74 L529.70 184.55 L530.00 184.41 L530.30 184.52 L530.90 184.78 L531.50 186.66 L532.10 186.42 L532.70 187.75 L533.30 187.36 L533.90 187.11 L534.50 186.95 L535.10 186.60 L535.70 184.73 L536.30 184.21 L536.50 184.14 L536.90 183.93 L537.50 185.35" fill="none" stroke="#ff0000" stroke-width="2.0" stroke-linejoin="round"/>
<path d="M306.50 241.88 L307.30 241.32 L308.10 240.66 L308.90 240.58 L309.70 239.57 L310.50 239.40 L311.30 239.22 L312.10 238.36 L312.90 238.33 L313.70 238.13 L314.50 237.64 L315.30 237.78 L316.10 238.02 L316.90 238.03 L317.70 238.44 L318.50 238.42 L319.30 238.83 L320.10 239.15 L320.90 239.79 L321.70 240.42 L322.50 240.56 L323.30 240.97 L324.10 241.00 L324.90 241.44 L325.70 241.24 L326.50 241.52 L327.30 241.89 L328.10 242.05 L328.90 241.98 L329.70 241.87 L330.50 242.06 L331.30 242.07 L332.10 242.14 L332.90 242.45 L333.70 242.04 L334.50 242.38 L335.30 242.27 L336.10 241.64 L336.90 241.67 L337.70 241.58 L338.50 241.12 L339.30 241.19 L340.10 241.32 L340.90 240.70 L341.70 240.87 L342.50 240.47 L343.30 240.65 L344.10 240.75 L344.90 240.27 L345.70 240.09 L346.50 240.10 L347.30 240.34 L348.10 240.01 L348.90 240.04 L349.70 240.28 L350.50 240.53 L351.30 240.21 L352.10 240.16 L352.90 240.23 L353.70 239.80 L354.50 239.95 L355.30 239.53 L356.10 239.58 L356.90 239.55 L357.70 238.76 L358.50 238.80 L359.30 238.58 L360.10 238.06 L360.90 237.90 L361.70 238.12 L362.50 237.89 L363.30 237.11 L364.10 237.18 L364.90 237.01 L365.70 236.20 L366.50 235.98 L367.30 235.15 L368.10 234.85 L368.90 234.55 L369.70 234.09 L370.50 233.88 L371.30 233.24 L372.10 233.27 L372.90 233.52 L373.70 233.35 L374.50 233.32 L375.30 233.37 L376.10 233.83 L376.90 233.72 L377.70 233.55 L378.50 234.21 L379.30 234.16 L380.10 234.50 L380.90 234.67 L381.70 235.15 L382.50 235.44 L383.30 235.69 L384.10 236.41 L384.90 236.50 L385.70 237.32 L386.50 237.27 L387.30 238.11 L388.10 238.51 L388.90 238.70 L389.70 239.18 L390.50 239.25 L391.30 239.87 L392.10 239.99 L392.90 240.17 L393.70 240.88 L394.50 240.80 L395.30 241.03 L396.10 241.54 L396.90 241.46 L397.70 241.83 L398.50 241.71 L399.30 242.28 L400.10 242.09 L400.90 242.11 L401.70 242.81 L402.50 242.46 L403.30 243.05 L404.10 243.21 L404.90 243.11 L405.70 242.88 L406.50 243.03 L407.30 243.23 L408.10 243.44 L408.90 243.67 L409.70 243.96 L410.50 243.65 L411.30 243.56 L412.10 243.84 L412.90 243.60 L413.70 243.57 L414.50 243.84 L415.30 243.91 L416.10 243.50 L416.90 243.70 L417.70 243.80 L418.50 243.78 L419.30 243.49 L420.10 243.72 L420.90 243.21 L421.70 243.45 L422.50 243.39 L423.30 243.36 L424.10 243.03 L424.90 242.69 L425.70 242.55 L426.50 242.73 L427.30 242.42 L428.10 242.59 L428.90 242.17 L429.70 242.50 L430.50 242.08 L431.30 241.88 L432.10 241.91 L432.90 242.02 L433.70 242.02 L434.50 241.87 L435.30 241.69 L436.10 241.84 L436.90 242.08 L437.70 241.80 L438.50 242.01 L439.30 241.44 L440.10 241.99 L440.90 241.91 L441.70 241.68 L442.50 241.65 L443.30 241.65 L444.10 241.86 L444.90 241.35 L445.70 241.70 L446.50 241.64 L447.30 241.50 L448.10 241.77 L448.90 241.79 L449.70 241.45 L450.50 241.84 L451.30 241.73 L452.10 241.80 L452.90 241.95 L453.70 241.66 L454.50 242.05 L455.30 241.99 L456.10 242.37 L456.90 242.06 L457.70 242.51 L458.50 242.55 L459.30 242.58 L460.10 242.84 L460.90 242.44 L461.70 242.89 L462.50 243.02 L463.30 243.17 L464.10 243.13 L464.90 243.04 L465.70 243.22 L466.50 243.58 L467.30 243.42 L468.10 243.45 L468.90 243.71 L469.70 243.86 L470.50 243.96 L471.30 243.71 L472.10 244.22 L472.90 244.01 L473.70 244.34 L474.50 243.95 L475.30 244.61 L476.10 244.49 L476.90 244.84 L477.70 244.97 L478.50 245.00 L479.30 244.67 L480.10 244.92 L480.90 244.94 L481.70 245.34 L482.50 245.05 L483.30 245.12 L484.10 245.11 L484.90 245.17 L485.70 245.71 L486.50 245.79 L487.30 245.48 L488.10 245.76 L488.90 245.65 L489.70 245.74 L490.50 245.71 L491.30 245.93 L492.10 245.74 L492.90 245.81 L493.70 246.02 L494.50 245.88 L495.30 246.07 L496.10 246.42 L496.90 245.90 L497.70 245.99 L498.50 246.44 L499.30 246.02 L500.10 246.15 L500.90 246.53 L501.70 246.39 L502.50 246.16 L503.30 246.06 L504.10 246.19 L504.90 246.19 L505.70 246.48 L506.50 246.57 L507.30 246.43 L508.10 246.48 L508.90 246.47 L509.70 246.41 L510.50 246.41 L511.30 246.41 L512.10 245.86 L512.90 245.96 L513.70 245.89 L514.50 246.08 L515.30 245.98 L516.10 245.87 L516.90 246.14 L517.70 245.86 L518.50 245.72 L519.30 245.74 L520.10 245.83 L520.90 245.90 L521.70 245.86 L522.50 245.76 L523.30 245.60 L524.10 245.71 L524.90 245.65 L525.70 245.55 L526.50 245.76 L527.30 245.54 L528.10 245.84 L528.90 245.80 L529.70 245.48 L530.50 245.77 L531.30 245.59 L532.10 245.66 L532.90 245.75 L533.70 245.84 L534.50 245.91 L535.30 245.82 L536.10 245.51 L536.90 245.71 L537.70 245.59" fill="none" stroke="#0000ff" stroke-width="3.2" stroke-linejoin="round"/>
<text x="169.40" y="203.2" class="sl" textLength="39.20" lengthAdjust="spacingAndGlyphs">CaWO</text>
<text x="208.50" y="206.0" class="sl sub">4</text>
<text x="218.20" y="203.2" class="sl" textLength="36.80" lengthAdjust="spacingAndGlyphs">160°C</text>
<text x="186.20" y="259.0" class="sl" textLength="39.30" lengthAdjust="spacingAndGlyphs">CaWO</text>
<text x="225.90" y="262.5" class="sl sub">4</text>
<text x="233.30" y="259.0" class="sl" textLength="18.50" lengthAdjust="spacingAndGlyphs">RT</text>
<text x="448.00" y="205.2" class="sl" textLength="37.90" lengthAdjust="spacingAndGlyphs">ZnWO</text>
<text x="486.50" y="208.5" class="sl sub">4</text>
<text x="496.70" y="205.2" class="sl" textLength="36.10" lengthAdjust="spacingAndGlyphs">160°C</text>
<text x="464.70" y="261.0" class="sl" textLength="37.80" lengthAdjust="spacingAndGlyphs">ZnWO</text>
<text x="503.80" y="264.7" class="sl sub">4</text>
<text x="513.00" y="261.0" class="sl" textLength="18.30" lengthAdjust="spacingAndGlyphs">RT</text>
</svg></body></html>
